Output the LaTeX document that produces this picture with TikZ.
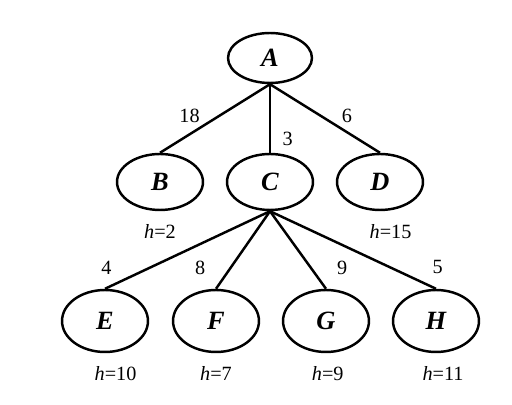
\documentclass[tikz,border=0pt]{standalone}
\usepackage{fontspec}
\setmainfont{Liberation Serif}
\usetikzlibrary{positioning,shapes.geometric}

\begin{document}
\begin{tikzpicture}[x=0.02cm,y=-0.02cm,line width=1.4pt,
  state/.style={ellipse,draw,inner sep=0pt,minimum width=1.72cm,minimum height=1.12cm,
    font=\fontsize{15}{17}\selectfont\bfseries\itshape},
  cost/.style={inner sep=1pt,font=\fontsize{11.5}{13}\selectfont},
  heur/.style={inner sep=1pt,font=\fontsize{11.5}{13}\selectfont}]
\useasboundingbox (0,0) rectangle (512,405);
% search tree
\node[state,minimum width=1.68cm,minimum height=1.0cm] (A) at (270,58) {A};
\node[state] (B) at (160,182) {B};
\node[state] (C) at (270,182) {C};
\node[state] (D) at (380,182) {D};
\node[state,minimum height=1.24cm] (E) at (105,321) {E};
\node[state,minimum height=1.24cm] (F) at (216,321) {F};
\node[state,minimum height=1.24cm] (G) at (326,321) {G};
\node[state,minimum height=1.24cm] (H) at (436,321) {H};
% step costs
\draw (A.south)--node[cost,pos=0.46,xshift=-17pt] {18} (B.north);
\draw (A.south)--node[cost,pos=0.8,xshift=10pt] {3} (C.north);
\draw (A.south)--node[cost,pos=0.46,xshift=15pt] {6} (D.north);
\draw (C.south)--node[cost,pos=0.725,xshift=-25pt] {4} (E.north);
\draw (C.south)--node[cost,pos=0.725,xshift=-17.5pt] {8} (F.north);
\draw (C.south)--node[cost,pos=0.725,xshift=18pt] {9} (G.north);
\draw (C.south)--node[cost,pos=0.725,xshift=27pt] {5} (H.north);
% heuristic values
\node[heur,below=6pt of B] (hB) {\textit{h}=2};
\node[heur,below=6pt of D,xshift=6pt] (hD) {\textit{h}=15};
\node[heur,below=6pt of E,xshift=6pt] (hE) {\textit{h}=10};
\node[heur,below=6pt of F] (hF) {\textit{h}=7};
\node[heur,below=6pt of G,xshift=1pt] (hG) {\textit{h}=9};
\node[heur,below=6pt of H,xshift=4pt] (hH) {\textit{h}=11};
\end{tikzpicture}
\end{document}
